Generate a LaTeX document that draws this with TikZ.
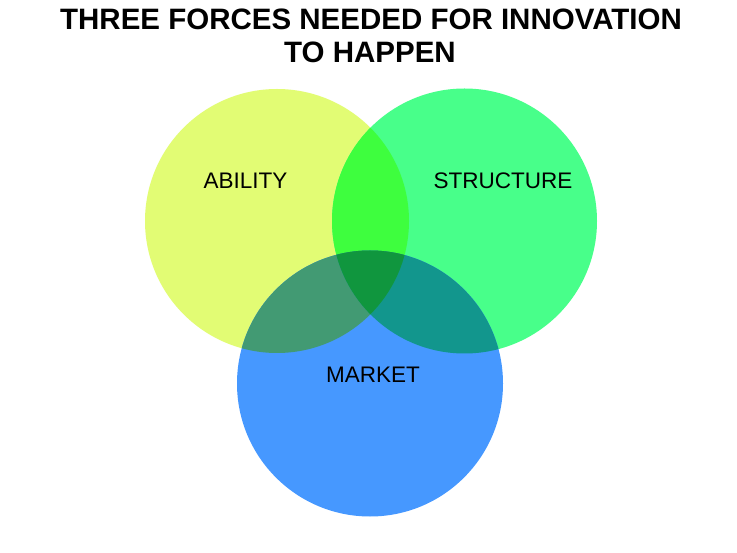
\documentclass[tikz,border=0pt]{standalone}
\usepackage{fontspec}
\setmainfont{Liberation Sans}
\definecolor{abilcol}{RGB}{226,252,116}
\definecolor{struccol}{RGB}{72,255,138}
\definecolor{markcol}{RGB}{70,152,255}
\definecolor{abstrcol}{RGB}{62,254,62}
\definecolor{abmkcol}{RGB}{66,154,115}
\definecolor{stmkcol}{RGB}{18,150,141}
\definecolor{allthreecol}{RGB}{16,150,62}
\begin{document}
\begin{tikzpicture}[x=1pt,y=-1pt,
  titletext/.style={font=\fontsize{29.5}{32}\selectfont\bfseries, inner sep=0pt, anchor=center},
  labeltext/.style={font=\fontsize{22.5}{26}\selectfont, inner sep=0pt, anchor=center}]
\useasboundingbox (0,0) rectangle (737,553);
\fill[white] (0,0) rectangle (737,553);
\def\circA{(277,221) circle (132)}
\def\circS{(464.5,221) circle (132.5)}
\def\circM{(370,383.5) circle (133)}
\fill[abilcol] \circA;
\fill[struccol] \circS;
\fill[markcol] \circM;
\begin{scope}\clip \circA; \fill[abstrcol] \circS; \end{scope}
\begin{scope}\clip \circA; \fill[abmkcol] \circM; \end{scope}
\begin{scope}\clip \circS; \fill[stmkcol] \circM; \end{scope}
\begin{scope}\clip \circA; \clip \circS; \fill[allthreecol] \circM; \end{scope}
\node[titletext] (t1) at (371,19) {THREE FORCES NEEDED FOR INNOVATION};
\node[titletext] (t2) at (370,52) {TO HAPPEN};
\node[labeltext] (ab) at (245.5,181) {ABILITY};
\node[labeltext] (st) at (503,181) {STRUCTURE};
\node[labeltext] (mk) at (373,375) {MARKET};
\end{tikzpicture}
\end{document}
